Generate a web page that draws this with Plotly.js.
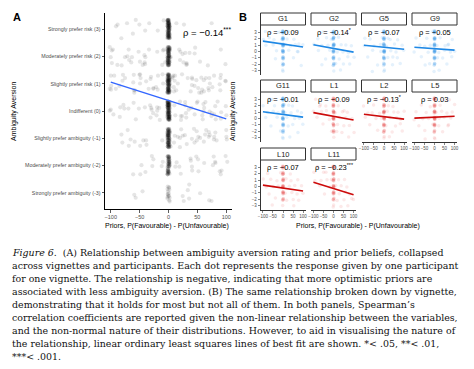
<!DOCTYPE html>
<html><head><meta charset="utf-8">
<script src="https://cdn.plot.ly/plotly-3.0.1.min.js"></script>
<style>html,body{margin:0;padding:0;background:#fff}#chart{width:474px;height:369px}</style>
</head><body><div id="chart"></div>
<script>
// ---------------- DATA ----------------
const vignettes = ["G1","G2","G5","G9","G11","L1","L2","L5","L10","L11"];
const aversionLevels = [-3,-2,-1,0,1,2,3];
const aversionLabels = ["Strongly prefer ambiguity (-3)","Moderately prefer ambiguity (-2)","Slightly prefer ambiguity (-1)","Indifferent (0)","Slightly prefer risk (1)","Moderately prefer risk (2)","Strongly prefer risk (3)"];
const priorTicks = [-100,-50,0,50,100];

// number of responses with prior = 0 at each aversion level (-3..3), per vignette
const zeroCounts = [
  [2,6,8,10,11,9,11],
  [1,6,8,9,10,8,9],
  [2,5,8,11,9,8,10],
  [1,5,8,11,10,9,9],
  [2,6,8,10,9,8,11],
  [1,6,8,10,9,8,10],
  [2,6,8,9,10,8,8],
  [2,5,8,11,9,8,9],
  [1,6,9,10,8,8,8],
  [2,6,8,9,8,8,8]
];
// responses with non-zero priors
const G1_prior  = [-100,-90,-85,-70,-60,-50,-45,-30,-20,-10,-5,10,15,20,30,40,50,55,60,70,80,90,100,-40,25,75];
const G1_aver   = [2,3,1,2,3,1,2,0,3,1,2,1,3,2,0,1,-1,2,1,0,1,-2,1,-1,3,0];
const G2_prior  = [-100,-80,-75,-60,-50,-40,-35,-25,-20,-10,5,10,20,25,30,40,45,50,60,70,75,80,90,100,-60,35];
const G2_aver   = [1,2,0,1,3,-1,2,1,0,2,1,-2,0,2,-1,1,0,-2,1,-1,0,-2,1,-1,-2,-3];
const G5_prior  = [-100,-95,-80,-70,-55,-50,-40,-30,-20,-15,-10,10,20,30,35,40,50,60,65,70,80,90,100,-60,20,45];
const G5_aver   = [1,2,-1,2,0,1,3,-2,1,0,2,1,-1,2,0,-2,1,0,-1,2,-2,1,0,-3,2,-1];
const G9_prior  = [-100,-90,-75,-65,-50,-40,-30,-25,-20,-10,10,15,20,30,40,50,55,60,70,80,85,90,100,-45,25,65];
const G9_aver   = [0,2,1,-1,1,2,0,-2,1,3,1,-1,0,2,-1,0,1,-2,1,0,-1,2,0,-2,-3,1];
const G11_prior = [-100,-85,-80,-70,-60,-50,-40,-30,-25,-10,5,10,20,25,30,40,50,60,70,75,80,90,100,-55,35,45];
const G11_aver  = [2,0,1,3,-1,1,2,0,1,-2,2,1,0,-1,2,1,-1,0,1,-2,0,1,-1,3,-3,2];
const L1_prior  = [-100,-90,-80,-70,-60,-50,-40,-35,-20,-10,10,20,25,30,40,45,50,60,70,75,80,90,100,-65,15,55];
const L1_aver   = [1,3,0,2,1,-1,2,1,0,-2,1,-1,2,0,-2,1,-1,0,1,-3,-1,0,-2,2,-2,1];
const L2_prior  = [-100,-95,-80,-70,-60,-50,-40,-30,-20,-15,10,15,20,30,40,50,55,60,70,80,85,90,100,-35,25,45];
const L2_aver   = [2,0,1,-1,1,2,0,-2,1,0,-1,1,2,0,-2,1,-1,0,1,-1,0,-2,1,3,-3,2];
const L5_prior  = [-100,-90,-80,-65,-60,-50,-40,-30,-20,-10,5,10,20,30,35,40,50,60,70,75,80,90,100,-45,25,65];
const L5_aver   = [0,1,-1,2,0,-2,1,0,2,-1,1,0,-1,2,1,-2,0,1,-1,3,0,1,2,-3,0,-1];
const L10_prior = [-100,-85,-75,-70,-60,-50,-40,-30,-25,-10,10,15,20,30,40,45,50,60,70,75,80,90,100,-55,35,55];
const L10_aver  = [1,0,2,-1,1,0,-2,1,0,2,-1,1,-2,0,1,-1,-2,0,-1,1,-2,0,-1,-3,2,-3];
const L11_prior = [-100,-95,-80,-70,-60,-50,-45,-30,-20,-10,5,10,20,25,30,40,50,60,65,70,80,90,100,-40,35,55];
const L11_aver  = [2,1,3,0,1,2,-1,1,0,1,-1,0,-2,1,-1,0,-2,-1,0,-3,-1,-2,-2,2,-3,1];

// fitted OLS line values at prior = -100 and prior = +100
const fitAtMinus100 = [1.6,1.05,0.95,0.65,1.05,0.9,0.65,0.05,0.2,0.65];
const fitAtPlus100  = [0.7,-0.1,0.35,0.2,0.2,-0.25,-0.1,0.35,-0.7,-1.3];
const fitAllEnds    = [1.06,-0.29];
const fitPriorEnds  = [-100,100];

// Spearman correlations
const rhoValues = [-0.09,-0.14,-0.07,-0.05,-0.01,-0.09,-0.13,0.03,-0.07,-0.23];
const rhoStars  = ["","*","","","","","*","","","***"];
const rhoAll = -0.14, rhoAllStars = "***";

const captionLines = [
  "<i>Figure 6</i>.  (A) Relationship between ambiguity aversion rating and prior beliefs, collapsed",
  "across vignettes and participants. Each dot represents the response given by one participant",
  "for one vignette. The relationship is negative, indicating that more optimistic priors are",
  "associated with less ambiguity aversion. (B) The same relationship broken down by vignette,",
  "demonstrating that it holds for most but not all of them. In both panels, Spearman’s",
  "correlation coefficients are reported given the non-linear relationship between the variables,",
  "and the non-normal nature of their distributions. However, to aid in visualising the nature of",
  "the relationship, linear ordinary least squares lines of best fit are shown. *&lt; .05, **&lt; .01,",
  "***&lt; .001."
];

// ---------------- BUILD ----------------
const priorsList = [G1_prior,G2_prior,G5_prior,G9_prior,G11_prior,L1_prior,L2_prior,L5_prior,L10_prior,L11_prior];
const aversList  = [G1_aver,G2_aver,G5_aver,G9_aver,G11_aver,L1_aver,L2_aver,L5_aver,L10_aver,L11_aver];

const W = 474, H = 369;
const JIT = [0.62,-0.35,0.91,-0.78,0.14,-0.52,0.37,-0.06,0.83,-0.91,0.25,-0.67,0.49,-0.22,0.71,-0.44,0.03,-0.85,0.58,-0.13,0.96,-0.6,0.31];
const FONT = "Liberation Sans, Arial, sans-serif";
const fmtRho = v => "ρ = " + (v < 0 ? "−" : "") + Math.abs(v).toFixed(2);

function points(i) {
  const xs = [], ys = [];
  aversionLevels.forEach((lv, j) => {
    for (let c = 0; c < zeroCounts[i][j]; c++) { xs.push(0); ys.push(lv); }
  });
  priorsList[i].forEach((p, k) => { xs.push(p); ys.push(aversList[i][k]); });
  return {xs, ys};
}
function jitter(xs, ys, ax, ay, off) {
  return {
    x: xs.map((v, n) => v + ax * JIT[(n * 5 + 11 + off) % JIT.length]),
    y: ys.map((v, n) => v + ay * JIT[(n + off) % JIT.length])
  };
}
const px2x = px => px / W;
const px2y = px => 1 - px / H;

const traces = [];
const layout = {
  width: W, height: H, margin: {l:0, r:0, t:0, b:0},
  paper_bgcolor: "#fff", plot_bgcolor: "rgba(0,0,0,0)",
  showlegend: false, font: {family: FONT, color: "#000"},
  shapes: [], annotations: []
};

// ---- Panel A ----
let allX = [], allY = [];
for (let i = 0; i < vignettes.length; i++) {
  const p = points(i);
  const j = jitter(p.xs, p.ys, 2, 0.36, i * 3);
  allX = allX.concat(j.x); allY = allY.concat(j.y);
}
traces.push({type:"scatter", mode:"markers", x: allX, y: allY, xaxis:"x", yaxis:"y",
  marker:{size:4.2, color:"rgba(0,0,0,0.1)", line:{width:0}}, hoverinfo:"skip"});
traces.push({type:"scatter", mode:"lines", x: fitPriorEnds, y: fitAllEnds, xaxis:"x", yaxis:"y",
  line:{color:"#3366FF", width:1.5}, hoverinfo:"skip"});
layout.xaxis = {domain:[px2x(105), px2x(232)], range:[-110,110], showgrid:false, zeroline:false,
  showline:true, linecolor:"#000", linewidth:1, ticks:"outside", ticklen:2.5, tickwidth:0.8, tickcolor:"#333",
  tickvals: priorTicks, tickangle:0, ticklabeloverflow:"allow", tickfont:{size:5.5, color:"#4d4d4d"}, anchor:"y"};
layout.yaxis = {domain:[px2y(209), px2y(13)], range:[-3.6,3.6], showgrid:false, zeroline:false,
  showline:true, linecolor:"#000", linewidth:1, ticks:"outside", ticklen:2.5, tickwidth:0.8, tickcolor:"#333",
  tickvals: aversionLevels, ticktext: aversionLabels, ticklabeloverflow:"allow", tickfont:{size:5.3, color:"#4d4d4d"}, anchor:"x"};
layout.annotations.push({xref:"x", yref:"y", x:66, y:2.9, text: fmtRho(rhoAll) + "<sup>" + rhoAllStars + "</sup>",
  showarrow:false, font:{size:9.5, color:"#000"}, xanchor:"center", yanchor:"middle"});

// ---- Panel B ----
const colX = [260.5, 311, 361.5, 412];
const stripTop = [13, 80, 148];
const FW = 45, SH = 12, PH = 50;
for (let i = 0; i < vignettes.length; i++) {
  const row = Math.floor(i / 4), col = i % 4, k = i + 2;
  const x0 = colX[col], top = stripTop[row];
  const isG = vignettes[i][0] === "G";
  const showX = i >= 6, showY = col === 0;
  const p = points(i);
  const j = jitter(p.xs, p.ys, 2.5, 0.2, i * 7);
  traces.push({type:"scatter", mode:"markers", x:j.x, y:j.y, xaxis:"x"+k, yaxis:"y"+k,
    marker:{size:3.5, color: isG ? "rgba(30,136,229,0.12)" : "rgba(229,40,40,0.1)", line:{width:0}}, hoverinfo:"skip"});
  traces.push({type:"scatter", mode:"lines", x: fitPriorEnds, y:[fitAtMinus100[i], fitAtPlus100[i]], xaxis:"x"+k, yaxis:"y"+k,
    line:{color: isG ? "#1E88E5" : "#CC0A0A", width:1.6}, hoverinfo:"skip"});
  layout["xaxis"+k] = {domain:[px2x(x0), px2x(x0+FW)], range:[-112,112], showgrid:false, zeroline:false,
    showline:showX, linecolor:"#000", linewidth:0.8, ticks: showX ? "outside" : "", ticklen:2, tickwidth:0.6, tickcolor:"#333",
    showticklabels:showX, tickvals: priorTicks, tickangle:0, ticklabeloverflow:"allow", tickfont:{size:4.5, color:"#4d4d4d"}, anchor:"y"+k};
  layout["yaxis"+k] = {domain:[px2y(top+SH+PH), px2y(top+SH)], range:[-3.65,4.1], showgrid:false, zeroline:false,
    showline:showY, linecolor:"#000", linewidth:0.8, ticks: showY ? "outside" : "", ticklen:2, tickwidth:0.6, tickcolor:"#333",
    showticklabels:showY, tickvals: aversionLevels, tickangle:0, ticklabeloverflow:"allow", tickfont:{size:4.5, color:"#4d4d4d"}, anchor:"x"+k};
  layout.shapes.push({type:"rect", xref:"paper", yref:"paper", x0:px2x(x0), x1:px2x(x0+FW), y0:px2y(top+SH), y1:px2y(top),
    line:{color:"#333", width:1}, fillcolor:"#fff"});
  layout.annotations.push({xref:"paper", yref:"paper", x:px2x(x0+FW/2), y:px2y(top+SH/2), text:vignettes[i],
    showarrow:false, font:{size:7.5, color:"#1a1a1a"}, xanchor:"center", yanchor:"middle"});
  layout.annotations.push({xref:"x"+k, yref:"y"+k, x:0, y:3.0, text: fmtRho(rhoValues[i]) + (rhoStars[i] ? "<sup>"+rhoStars[i]+"</sup>" : ""),
    showarrow:false, font:{size:7.5, color:"#000"}, xanchor:"center", yanchor:"middle"});
}

// ---- titles & labels ----
const ann = (x, y, text, size, extra) => layout.annotations.push(Object.assign({xref:"paper", yref:"paper",
  x:px2x(x), y:px2y(y), text, showarrow:false, font:{size, color:"#000", family:FONT}, xanchor:"center", yanchor:"middle"}, extra || {}));
ann(17, 17, "<b>A</b>", 11);
ann(243, 17, "<b>B</b>", 11);
ann(167, 226, "Priors, P(Favourable) - P(Unfavourable)", 7);
ann(358, 226, "Priors, P(Favourable) - P(Unfavourable)", 7);
ann(14, 111, "Ambiguity Aversion", 7, {textangle:-90});
ann(233, 111, "Ambiguity Aversion", 7, {textangle:-90});

captionLines.forEach((t, n) => {
  layout.annotations.push({xref:"paper", yref:"paper", x:px2x(10), y:px2y(252 + n * 13.1), text:t,
    showarrow:false, xanchor:"left", yanchor:"middle", align:"left",
    font:{size:9.45, color:"#111", family:"DejaVu Serif, Liberation Serif, serif"}});
});

Plotly.newPlot("chart", traces, layout, {displayModeBar:false, staticPlot:true});
</script>
</body></html>
